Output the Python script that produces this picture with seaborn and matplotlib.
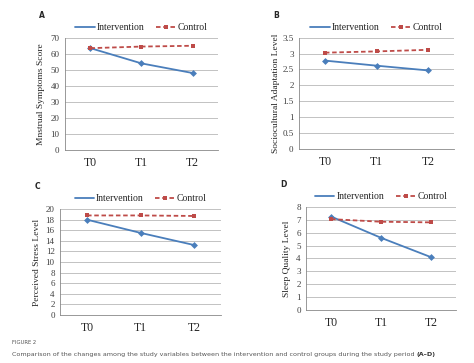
import numpy as np
import pandas as pd
import matplotlib
matplotlib.use("Agg")
import matplotlib.pyplot as plt
import seaborn as sns

# Dados
tempos = ["T0", "T1", "T2"]
grupos = ["Intervention", "Control"]

mens_interv = [63.5, 54.0, 48.0]
mens_contr = [63.5, 64.5, 65.0]
adapt_interv = [2.78, 2.62, 2.47]
adapt_contr = [3.03, 3.07, 3.12]
estresse_interv = [18.0, 15.5, 13.2]
estresse_contr = [18.8, 18.8, 18.7]
sono_interv = [7.25, 5.6, 4.1]
sono_contr = [7.05, 6.85, 6.8]

sns.set_theme(style="white")
plt.rcParams["font.family"] = ["Liberation Serif", "DejaVu Serif"]

AZUL = "#4a7ebb"
VERMELHO = "#be4b48"
GRADE = "#b8b8b8"


def painel(fig, pos, letra, interv, contr, ylabel, yticks, ytick_labels, ylabel_x):
    ax = fig.add_axes(pos)
    df = pd.DataFrame({
        "x": list(range(len(tempos))) * 2,
        "valor": interv + contr,
        "grupo": [grupos[0]] * len(tempos) + [grupos[1]] * len(tempos),
    })
    sns.lineplot(data=df, x="x", y="valor", hue="grupo", style="grupo",
                 palette={grupos[0]: AZUL, grupos[1]: VERMELHO},
                 dashes={grupos[0]: "", grupos[1]: (2.5, 1.5)},
                 markers={grupos[0]: "D", grupos[1]: "s"},
                 markersize=3.5, markeredgewidth=0, linewidth=1.3, ax=ax)
    ax.set_xlim(-0.5, 2.5)
    ax.set_ylim(yticks[0], yticks[-1])
    ax.set_yticks(yticks)
    ax.set_yticklabels(ytick_labels, fontsize=6.5, color="#404040")
    ax.set_xticks([0, 1, 2])
    ax.set_xticklabels(tempos, fontsize=8.5)
    ax.set_xticks([-0.5, 0.5, 1.5, 2.5], minor=True)
    ax.tick_params(axis="x", which="major", length=0, pad=5)
    ax.tick_params(axis="x", which="minor", length=3, color="#888888", width=0.6, direction="out")
    ax.tick_params(axis="y", length=3, color="#888888", width=0.6, direction="out", pad=1)
    ax.grid(axis="y", color=GRADE, linewidth=0.6)
    ax.set_axisbelow(True)
    for s in ["top", "right"]:
        ax.spines[s].set_visible(False)
    for s in ["left", "bottom"]:
        ax.spines[s].set_color("#888888")
        ax.spines[s].set_linewidth(0.6)
    ax.set_xlabel("")
    ax.set_ylabel(ylabel, fontsize=6.8)
    ax.yaxis.set_label_coords(ylabel_x, 0.5)
    leg = ax.legend(loc="lower center", bbox_to_anchor=(0.5, 1.0), ncol=2, frameon=False,
                    fontsize=7, handlelength=2.0, handletextpad=0.2, columnspacing=1.2,
                    borderaxespad=0.2)
    # Excel mostra a linha da intervenção sem marcador na legenda
    leg.legend_handles[0].set_marker("")
    fig.text(pos[0] - 0.055, pos[1] + pos[3] + 0.055, letra, fontsize=5.5,
             fontweight="bold", family="DejaVu Sans")
    return ax


fig = plt.figure(figsize=(4.74, 3.63), dpi=100)

painel(fig, [0.137, 0.587, 0.323, 0.309], "A", mens_interv, mens_contr,
       "Mnstrual Symptoms Score", list(range(0, 71, 10)),
       [str(v) for v in range(0, 71, 10)], -0.13)
b_ticks = [0, 0.5, 1, 1.5, 2, 2.5, 3, 3.5]
painel(fig, [0.631, 0.590, 0.327, 0.306], "B", adapt_interv, adapt_contr,
       "Sociocultural Adaptation Level", b_ticks,
       ["0", "0.5", "1", "1.5", "2", "2.5", "3", "3.5"], -0.12)
painel(fig, [0.127, 0.132, 0.340, 0.292], "C", estresse_interv, estresse_contr,
       "Perceived Stress Level", list(range(0, 21, 2)),
       [str(v) for v in range(0, 21, 2)], -0.12)
painel(fig, [0.646, 0.146, 0.316, 0.284], "D", sono_interv, sono_contr,
       "Sleep Quality Level", list(range(0, 9)),
       [str(v) for v in range(0, 9)], -0.1)

fig.text(0.025, 0.052, "FIGURE 2", fontsize=3.8, color="#555555", family="DejaVu Sans")
legenda = fig.text(0.025, 0.018, "Comparison of the changes among the study variables between "
                   "the intervention and control groups during the study period ",
                   fontsize=4.55, color="#555555", family="DejaVu Sans")
fig.canvas.draw()
bb = legenda.get_window_extent().transformed(fig.transFigure.inverted())
fig.text(bb.x1, 0.018, "(A\u2013D)", fontsize=4.55, color="#333333", fontweight="bold",
         family="DejaVu Sans")

fig.savefig("out.png", dpi=100)
